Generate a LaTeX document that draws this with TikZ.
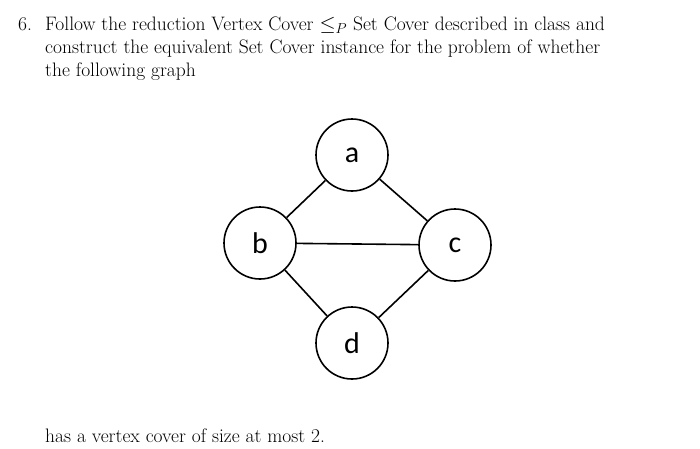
\documentclass[tikz,border=0pt]{standalone}
\usepackage{fontspec}
\newfontfamily\carlitofont{Carlito}
\begin{document}
\begin{tikzpicture}[x=1pt,y=-1pt,
  txt/.style={anchor=base west,inner sep=0pt,font=\fontsize{19.5}{22}\selectfont},
  vtx/.style={circle,draw,line width=1.6pt,minimum size=72pt,inner sep=0pt,font=\carlitofont\fontsize{30}{30}\selectfont},
  edge/.style={line width=1.6pt}]
\useasboundingbox (0,0) rectangle (700,448);
\node[txt] (n6) at (18,30) {6.};
\node[txt] (l1) at (45,30) {Follow the reduction Vertex Cover $\le_P$ Set Cover described in class and};
\node[txt] (l2) at (45,53) {construct the equivalent Set Cover instance for the problem of whether};
\node[txt] (l3) at (45,76) {the following graph};
\node[txt] (l4) at (45,442) {has a vertex cover of size at most 2.};
\node[vtx] (a) at (352,155) {a};
\node[vtx] (b) at (260,243) {b};
\node[vtx] (c) at (455,245) {c};
\node[vtx] (d) at (352,343) {d};
\draw[edge] (a)--(b) (a)--(c) (b)--(c) (b)--(d) (d)--(c);
\end{tikzpicture}
\end{document}
